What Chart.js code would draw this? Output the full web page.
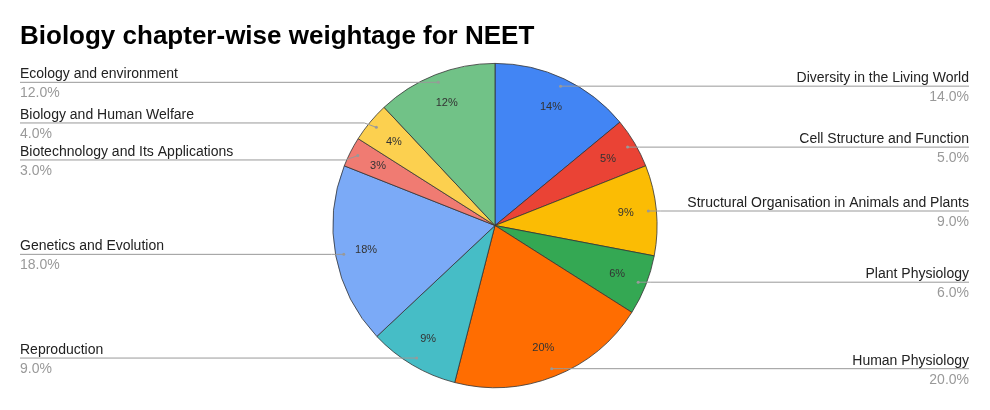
<!DOCTYPE html>
<html lang="en">
  <head>
    <meta charset="utf-8">
    <title>Biology chapter-wise weightage for NEET</title>
    <script src="https://cdn.jsdelivr.net/npm/chart.js"></script>
    <style>
      body { margin: 0; background: #fff; }
      canvas { display: block; }
    </style>
  </head>
  <body>
    <canvas id="chart" width="990" height="410"></canvas>
    <script>
      const TITLE = "Biology chapter-wise weightage for NEET";

      // Data, clockwise from 12 o'clock
      const chapters = [
        "Diversity in the Living World",
        "Cell Structure and Function",
        "Structural Organisation in Animals and Plants",
        "Plant Physiology",
        "Human Physiology",
        "Reproduction",
        "Genetics and Evolution",
        "Biotechnology and Its Applications",
        "Biology and Human Welfare",
        "Ecology and environment",
      ];
      const weightage = [14, 5, 9, 6, 20, 9, 18, 3, 4, 12];
      const sliceColors = [
        "#4285F4", "#EA4335", "#FBBC04", "#34A853", "#FF6D01",
        "#46BDC6", "#7BAAF7", "#F07B72", "#FCD04F", "#71C287",
      ];

      const FONT = '"Liberation Sans", Arial, sans-serif';
      const total = weightage.reduce((a, b) => a + b, 0);

      // push labels apart so they don't overlap
      function spread(items, gap) {
        items.sort((a, b) => a.y - b.y);
        for (let pass = 0; pass < 20; pass++) {
          for (let k = 1; k < items.length; k++) {
            let d = items[k].y - items[k - 1].y;
            if (d < gap) {
              let m = (gap - d) / 2;
              items[k - 1].y -= m;
              items[k].y += m;
            }
          }
        }
      }

      const sideLabels = {
        id: "sideLabels",
        afterDatasetsDraw(chart) {
          const ctx = chart.ctx;
          const arcs = chart.getDatasetMeta(0).data;
          let left = [], right = [];

          ctx.save();
          // title
          ctx.fillStyle = "#000";
          ctx.font = "bold 26px " + FONT;
          ctx.textAlign = "left";
          ctx.textBaseline = "alphabetic";
          ctx.fillText(TITLE, 20, 44);

          arcs.forEach((arc, i) => {
            let mid = (arc.startAngle + arc.endAngle) / 2;
            let r = arc.outerRadius;
            // percent inside the slice
            ctx.font = "11px " + FONT;
            ctx.fillStyle = "#333";
            ctx.textAlign = "center";
            ctx.textBaseline = "middle";
            ctx.fillText(Math.round(weightage[i] / total * 100) + "%",
              arc.x + Math.cos(mid) * r * 0.81, arc.y + Math.sin(mid) * r * 0.81);

            let dot = { x: arc.x + Math.cos(mid) * r * 0.95, y: arc.y + Math.sin(mid) * r * 0.95 };
            let item = { i, dot, y: dot.y };
            (dot.x >= arc.x ? right : left).push(item);
          });

          spread(left, 37);
          spread(right, 37);

          const drawItem = (item, isRight) => {
            let edge = isRight ? 969 : 20;
            let bend = isRight ? item.dot.x + 12 : item.dot.x - 12;
            ctx.strokeStyle = "#999";
            ctx.lineWidth = 1;
            ctx.beginPath();
            ctx.moveTo(item.dot.x, item.dot.y);
            ctx.lineTo(bend, item.y);
            ctx.lineTo(edge, item.y);
            ctx.stroke();
            ctx.fillStyle = "#999";
            ctx.beginPath();
            ctx.arc(item.dot.x, item.dot.y, 1.5, 0, Math.PI * 2);
            ctx.fill();

            ctx.textAlign = isRight ? "right" : "left";
            ctx.textBaseline = "alphabetic";
            ctx.font = "14px " + FONT;
            ctx.fillStyle = "#222";
            ctx.fillText(chapters[item.i], edge, item.y - 4);
            ctx.fillStyle = "#999";
            ctx.fillText((weightage[item.i] / total * 100).toFixed(1) + "%", edge, item.y + 15);
          };
          right.forEach(it => drawItem(it, true));
          left.forEach(it => drawItem(it, false));
          ctx.restore();
        }
      };

      new Chart(document.getElementById("chart").getContext("2d"), {
        type: "pie",
        data: {
          labels: chapters,
          datasets: [{
            data: weightage,
            backgroundColor: sliceColors,
            borderColor: "#333",
            borderWidth: 0.8,
            hoverOffset: 0,
          }]
        },
        options: {
          responsive: false,
          animation: false,
          layout: { padding: { top: 63, bottom: 22, left: 0, right: 0 } },
          plugins: {
            legend: { display: false },
            tooltip: { enabled: false },
          }
        },
        plugins: [sideLabels]
      });
    </script>
  </body>
</html>
